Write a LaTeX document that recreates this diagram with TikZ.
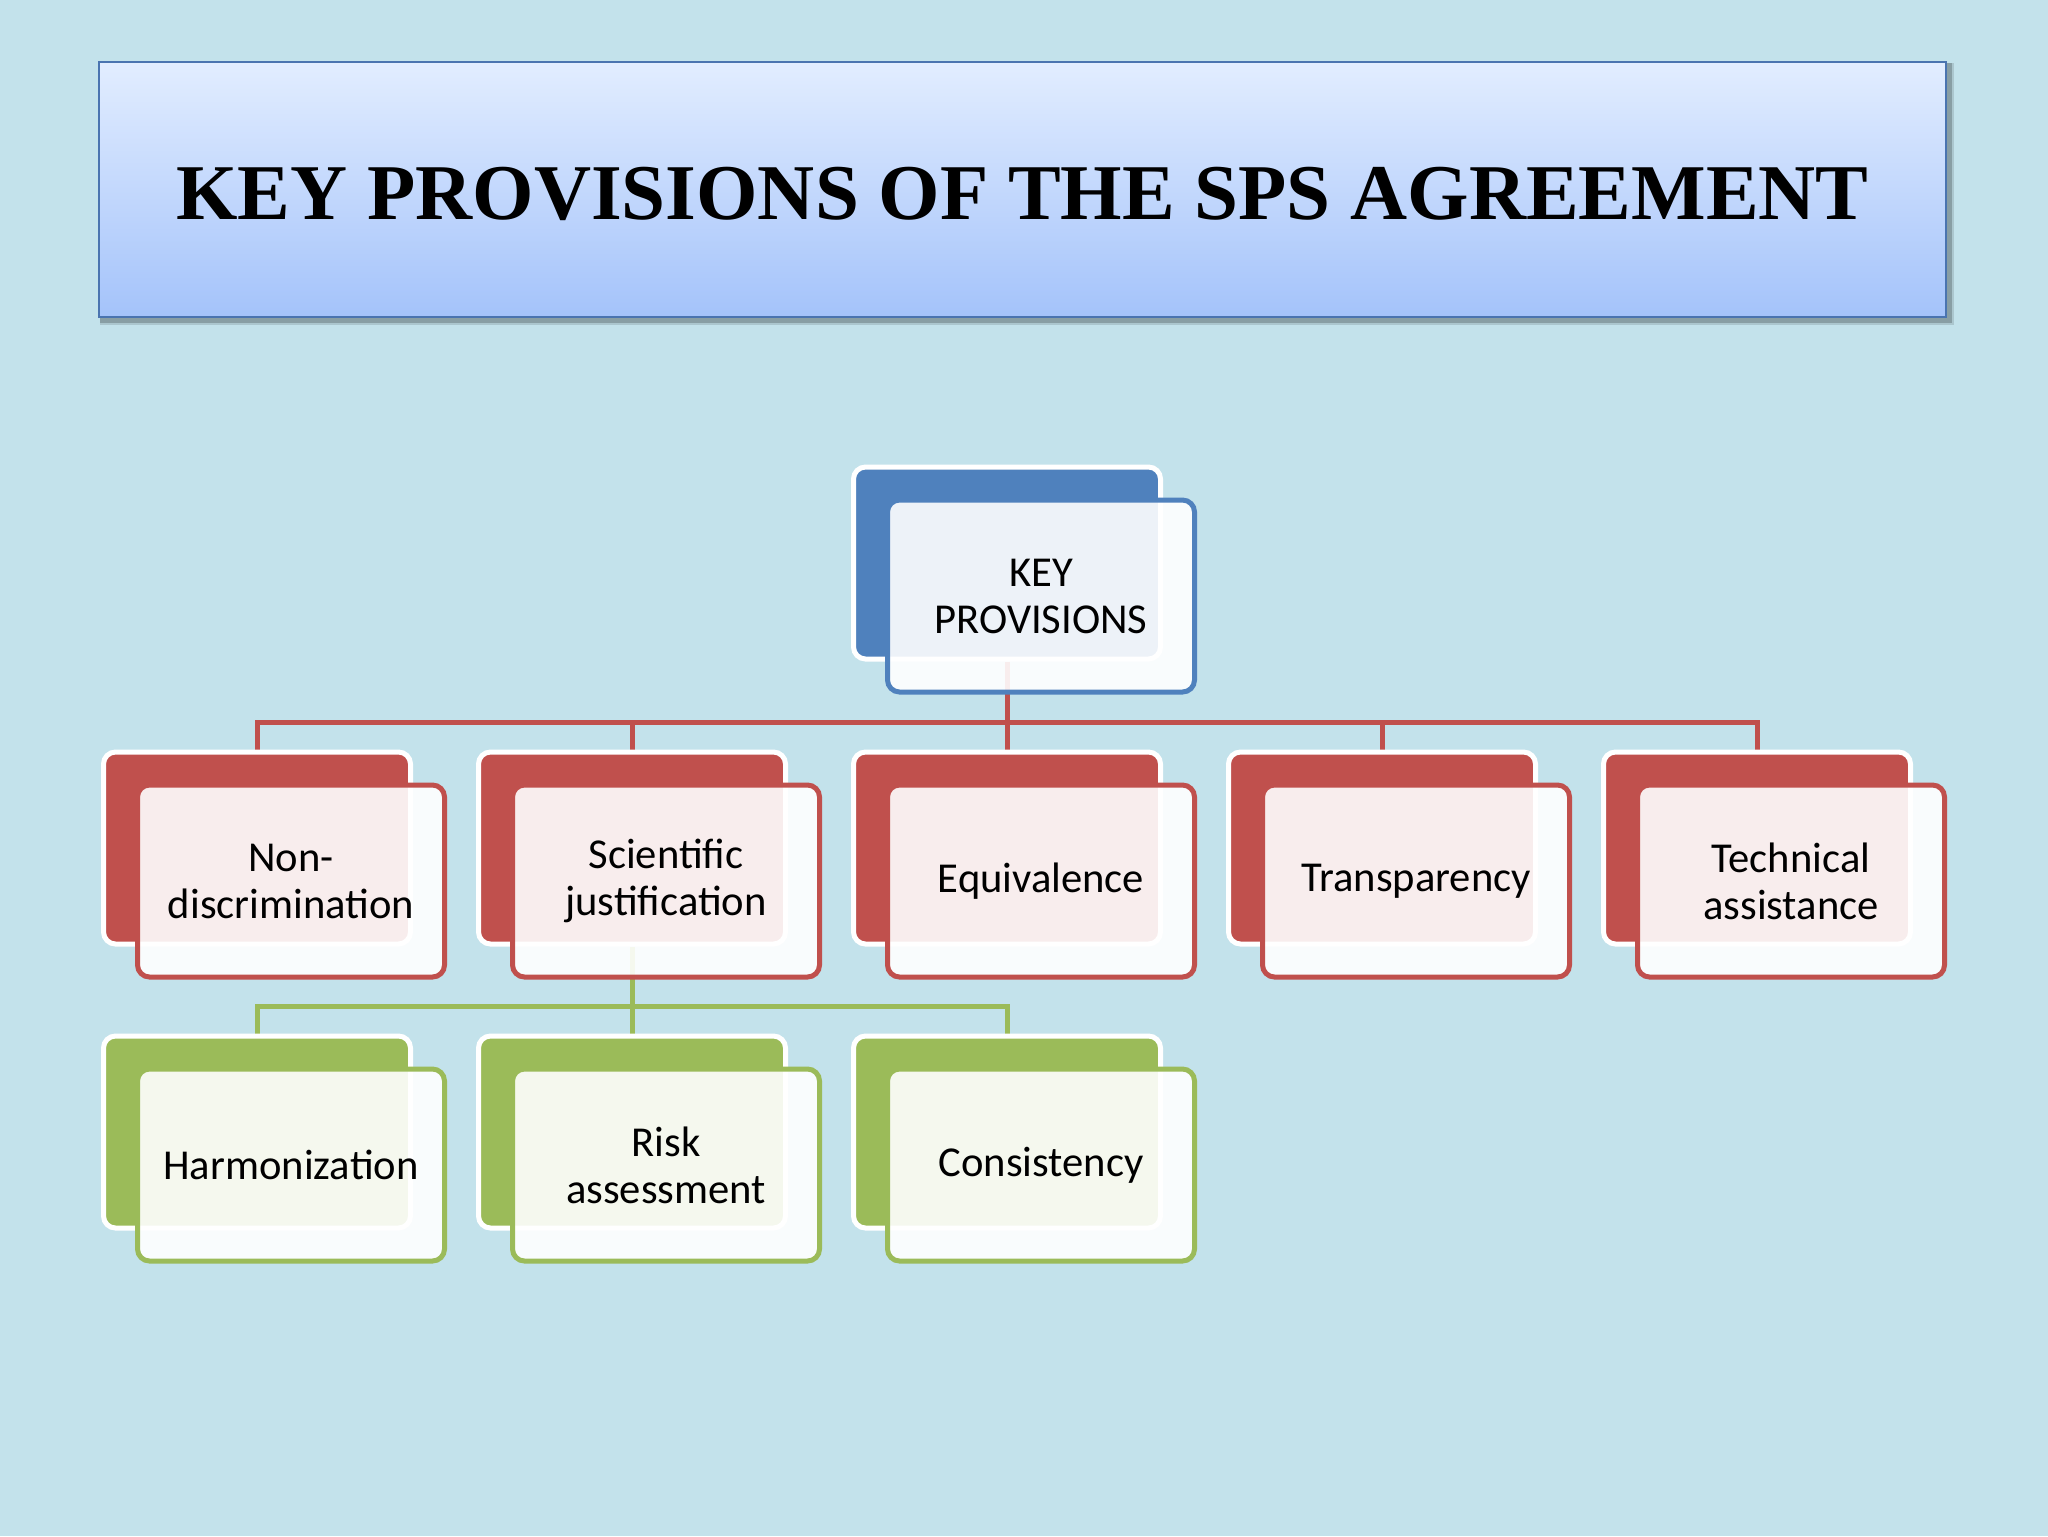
\documentclass[tikz,border=0pt]{standalone}
\usepackage{fontspec}
\setmainfont{Carlito}
\newfontfamily\titlefont{Liberation Serif}
\definecolor{bgc}{RGB}{195,226,235}
\definecolor{kblue}{RGB}{79,129,189}
\definecolor{kred}{RGB}{192,80,77}
\definecolor{kgreen}{RGB}{155,187,89}
\definecolor{ttop}{RGB}{226,237,255}
\definecolor{tbot}{RGB}{164,195,250}
\definecolor{tborder}{RGB}{74,116,176}
\pgfdeclarelayer{back}
\pgfdeclarelayer{bg}
\pgfsetlayers{back,bg,main}
\tikzset{
  backbox/.style={draw=white, line width=2.5pt, rounded corners=6pt, fill=#1,
    minimum width=153.5pt, minimum height=96pt, inner sep=0pt},
  frontbox/.style={draw=#1, line width=2.5pt, rounded corners=6pt, fill=white,
    fill opacity=0.9, text opacity=1, minimum width=153.5pt, minimum height=96pt,
    inner sep=0pt, align=center, font=\fontsize{21.3}{23.5}\selectfont},
  link/.style={draw=#1, line width=2.5pt},
  titlebox/.style={draw=tborder, line width=1.2pt, top color=ttop, bottom color=tbot,
    minimum width=923.5pt, minimum height=127.5pt, inner sep=0pt,
    text height=30pt, text depth=0pt,
    font=\titlefont\bfseries\fontsize{39.5}{45}\selectfont}
}
\begin{document}
\begin{tikzpicture}[x=0.5pt,y=-0.5pt]
\begin{pgfonlayer}{back}
  \fill[bgc] (0,0) rectangle (2048,1536);
\end{pgfonlayer}
\useasboundingbox (0,0) rectangle (2048,1536);

% title
\node[titlebox] (title) at (1022.5,189.5) {KEY PROVISIONS OF THE SPS AGREEMENT};
\begin{pgfonlayer}{bg}
  \fill[black, opacity=0.12] ([xshift=1pt,yshift=-3.5pt]title.south west) rectangle ([xshift=3.5pt,yshift=-1pt]title.north east);
  \fill[black, opacity=0.2] ([xshift=1pt,yshift=-2.5pt]title.south west) rectangle ([xshift=2.5pt,yshift=-1pt]title.north east);
\end{pgfonlayer}

% back boxes
\node[backbox=kblue] (kp-b) at (1007,563) {};
\node[backbox=kred] (c1-b) at (257,848) {};
\node[backbox=kred] (c2-b) at (632,848) {};
\node[backbox=kred] (c3-b) at (1007,848) {};
\node[backbox=kred] (c4-b) at (1382,848) {};
\node[backbox=kred] (c5-b) at (1757,848) {};
\node[backbox=kgreen] (g1-b) at (257,1132) {};
\node[backbox=kgreen] (g2-b) at (632,1132) {};
\node[backbox=kgreen] (g3-b) at (1007,1132) {};

% connectors
\begin{pgfonlayer}{bg}
  \foreach \c in {c1,c2,c3,c4,c5}
    \draw[link=kred] (kp-b.south) |- ([yshift=13.5pt]\c-b.north) -- (\c-b.north);
  \foreach \g in {g1,g2,g3}
    \draw[link=kgreen] (c2-b.south) |- ([yshift=13.5pt]\g-b.north) -- (\g-b.north);
\end{pgfonlayer}

% front boxes
\node[frontbox=kblue] (kp) at (1041,596) {KEY\\PROVISIONS};
\node[frontbox=kred] (c1) at (291,881) {Non-\\discrimination};
\node[frontbox=kred] (c2) at (666,881) {Scientific\\justification};
\node[frontbox=kred] (c3) at (1041,881) {Equivalence};
\node[frontbox=kred] (c4) at (1416,881) {Transparency};
\node[frontbox=kred] (c5) at (1791,881) {Technical\\assistance};
\node[frontbox=kgreen] (g1) at (291,1165) {Harmonization};
\node[frontbox=kgreen] (g2) at (666,1165) {Risk\\assessment};
\node[frontbox=kgreen] (g3) at (1041,1165) {Consistency};
\end{tikzpicture}
\end{document}
